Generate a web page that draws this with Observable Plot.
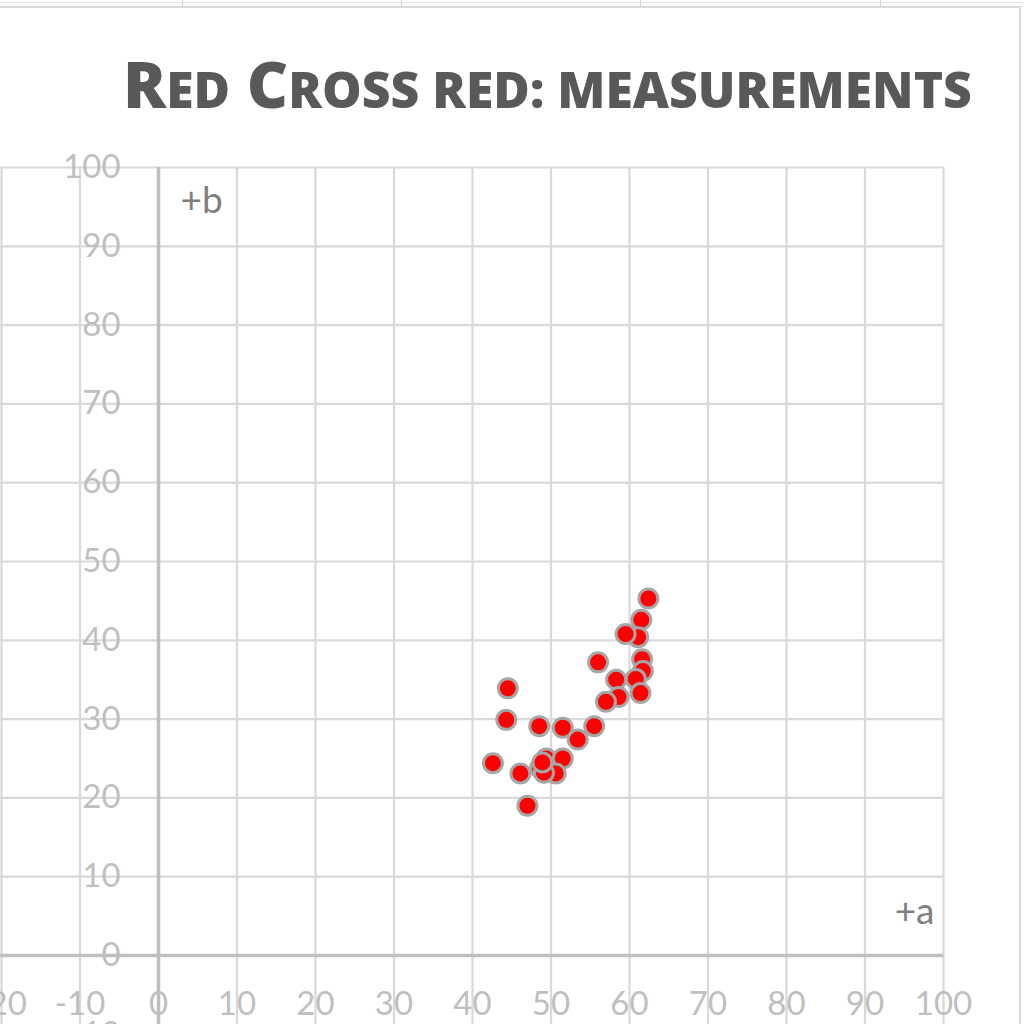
<!DOCTYPE html>
<html>
<head>
<meta charset="utf-8">
<script src="https://cdn.jsdelivr.net/npm/d3@7"></script>
<script src="https://cdn.jsdelivr.net/npm/@observablehq/plot@0.6"></script>
<style>
  html, body { margin: 0; padding: 0; background: #fff; }
  #wrap { position: relative; width: 1024px; height: 1024px; overflow: hidden; background: #fff; }
  #chart { position: absolute; left: 0; top: 0; }
  #title {
    position: absolute; top: 40px; left: 123px; white-space: nowrap;
    font-family: "Open Sans", sans-serif; font-weight: 800;
    font-size: 60px; color: #595959; line-height: 1;
  }
  #title .sm { font-size: 0.78em; text-transform: uppercase; }
  #title .mark { display: inline-block; width: 0; height: 0; vertical-align: baseline; }
  .sheet { position: absolute; background: #d9d9d9; }
</style>
</head>
<body>
<div id="wrap">
  <div class="sheet" style="left:0;top:2px;width:1024px;height:1px;background:#e6e6e6"></div>
  <div class="sheet" style="left:182px;top:0;width:1px;height:6px;background:#cfcfcf"></div>
  <div class="sheet" style="left:401px;top:0;width:1px;height:6px;background:#cfcfcf"></div>
  <div class="sheet" style="left:640px;top:0;width:1px;height:6px;background:#cfcfcf"></div>
  <div class="sheet" style="left:880px;top:0;width:1px;height:6px;background:#cfcfcf"></div>
  <div class="sheet" style="left:-10px;top:6px;width:1031px;height:1022px;background:transparent;border:2px solid #d9d9d9;box-sizing:border-box"></div>
  <div id="chart"></div>
  <div id="title"><span>R</span><span class="sm">ed</span> <span>C</span><span class="sm">ross red: measurements</span><span class="mark"></span></div>
</div>
<script>
const aValues = [62.4, 61.5, 61.1, 59.5, 56.0, 61.6, 61.7, 60.8, 58.3, 61.4, 58.6, 57.0, 44.5, 44.3, 48.5, 51.5, 55.5, 53.4, 42.6, 46.1, 49.4, 51.5, 50.6, 48.6, 49.1, 48.9, 47.0];
const bValues = [45.3, 42.6, 40.4, 40.8, 37.2, 37.6, 36.1, 35.1, 35.0, 33.3, 32.8, 32.2, 33.9, 29.9, 29.1, 28.9, 29.1, 27.4, 24.4, 23.1, 25.0, 25.0, 23.1, 23.8, 23.2, 24.5, 19.0];

const xTicks = [-20, -10, 0, 10, 20, 30, 40, 50, 60, 70, 80, 90, 100];
const yTicks = [-10, 0, 10, 20, 30, 40, 50, 60, 70, 80, 90, 100];
const xAxisLabel = "+a";
const yAxisLabel = "+b";

const points = aValues.map((a, i) => ({a, b: bValues[i]}));

const tickFont = "Lato, 'Open Sans', sans-serif";

const chart = Plot.plot({
  width: 1024,
  height: 1024,
  marginLeft: 0,
  marginRight: 81,
  marginTop: 167,
  marginBottom: 0,
  x: {domain: [-20.13, 100], axis: null},
  y: {domain: [-8.76, 100], axis: null},
  style: {background: "transparent", overflow: "visible"},
  marks: [
    Plot.ruleX(xTicks.filter(d => d !== 0), {x: d => d, stroke: "#d9d9d9", strokeWidth: 2.2}),
    Plot.ruleY(yTicks.filter(d => d !== 0 && d >= -8), {y: d => d, stroke: "#d9d9d9", strokeWidth: 2.2}),
    Plot.ruleX([0], {x: d => d, stroke: "#bfbfbf", strokeWidth: 3.5}),
    Plot.ruleY([0], {y: d => d, stroke: "#bfbfbf", strokeWidth: 3.5}),
    Plot.text(yTicks, {x: 0, y: d => d, text: d => String(d), dx: -38, textAnchor: "end", fill: "#bfbfbf", fontSize: 33, fontFamily: tickFont}),
    Plot.text(xTicks, {x: d => d, y: 0, text: d => String(d), dy: 49, textAnchor: "middle", fill: "#bfbfbf", fontSize: 33, fontFamily: tickFont}),
    Plot.text([yAxisLabel], {x: 0, y: 100, text: d => d, dx: 22, dy: 34, textAnchor: "start", fill: "#7f7f7f", fontSize: 37, fontFamily: tickFont}),
    Plot.text([xAxisLabel], {x: 100, y: 0, text: d => d, dx: -9, dy: -43, textAnchor: "end", fill: "#7f7f7f", fontSize: 37, fontFamily: tickFont}),
    Plot.dot(points, {x: "a", y: "b", r: 9.5, fill: "#ff0000", stroke: "#a6a6a6", strokeWidth: 3})
  ]
});
document.getElementById("chart").appendChild(chart);

// fit the title to the reference box (x from 123 to 972, baseline at y=108)
const t = document.getElementById("title");
const w = t.getBoundingClientRect().width;
t.style.fontSize = (60 * 849 / w) + "px";
const base = t.querySelector(".mark").getBoundingClientRect().top;
const top0 = t.getBoundingClientRect().top;
t.style.top = (108 - (base - top0)) + "px";
</script>
</body>
</html>
